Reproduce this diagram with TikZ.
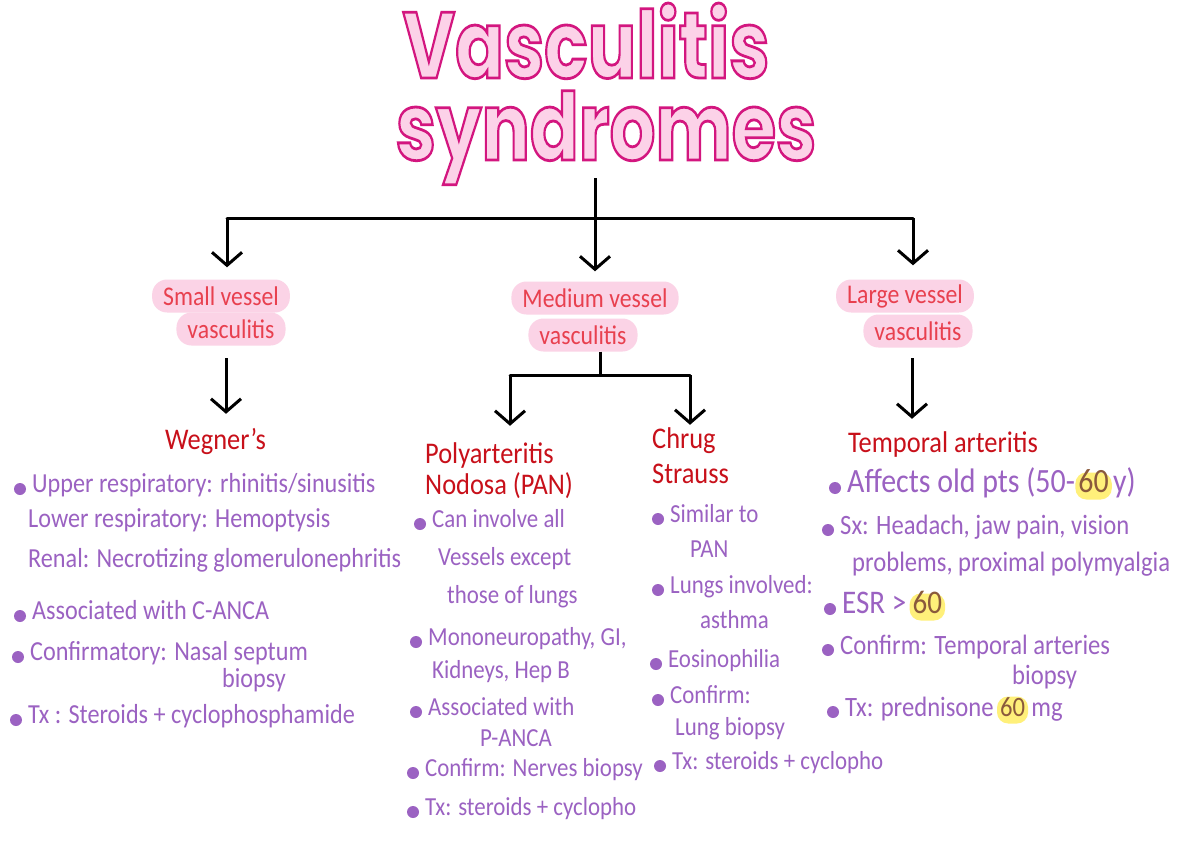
\documentclass[tikz,border=0pt]{standalone}
\usepackage{fontspec}
\usepackage{xcolor}
\usepackage{tikz}
\usetikzlibrary{arrows.meta}
\usetikzlibrary{positioning}

\setmainfont{Carlito}[FakeStretch=0.88]
\newfontfamily\titlefont{Poppins}[FakeBold=3]

\definecolor{pillpink}{HTML}{FBD3E6}
\definecolor{pillred}{HTML}{E8404F}
\definecolor{headred}{HTML}{C8101A}
\definecolor{lilac}{HTML}{9B62C2}
\definecolor{titlepink}{HTML}{FCD2E8}
\definecolor{titleedge}{HTML}{D3167F}
\definecolor{hlyellow}{HTML}{FFF07A}
\definecolor{hltext}{HTML}{8A5A3C}

% pink letters with a magenta rim: fill and stroke set apart
\newcommand{\bubble}[1]{{\color{titlepink}\special{pdf:literal direct 0.827 0.086 0.498 RG}#1}}

\tikzset{
  ttl/.style={anchor=base, inner sep=0pt, font=\titlefont\bfseries\fontsize{72}{72}\selectfont},
  pill/.style={fill=pillpink, text=pillred, rounded corners=15pt, inner xsep=11pt,
    minimum height=33pt, font=\fontsize{27}{27}\selectfont},
  head/.style={text=headred, anchor=west, inner sep=0pt, text height=19pt, text depth=5pt,
    font=\fontsize{30}{30}\selectfont},
  txt/.style={text=lilac, anchor=west, inner sep=0pt, text height=16pt, text depth=5pt,
    font=\fontsize{26}{26}\selectfont},
  wtxt/.style={txt, font=\fontsize{27.5}{27.5}\selectfont},
  big/.style={txt, font=\fontsize{28}{28}\selectfont, text height=18pt},
  hl/.style={big, fill=hlyellow, text=hltext, rounded corners=11pt, inner xsep=3pt, inner ysep=2pt},
  arr/.style={line width=3pt, -{Straight Barb[length=13pt,width=30pt,line width=3pt]}},
  dot/.style={fill=lilac}
}

\begin{document}
\begin{tikzpicture}[x=1pt,y=-1pt]
            \useasboundingbox (0,0) rectangle (1200,843);
            \fill[white] (0,0) rectangle (1200,843);
            %title
            \node[ttl] (ttla) at (586,78) {\scalebox{1}[1.3]{\bubble{Vasculitis}}};
            \node[ttl] (ttlb) at (606,160) {\scalebox{1}[1.3]{\bubble{syndromes}}};
            %
            %categories
            \node[pill] (smalla) at (221,296) {Small vessel};
            \node[pill] (smallb) at (231,329) {vasculitis};
            \node[pill] (meda) at (595,298) {Medium vessel};
            \node[pill] (medb) at (583,335) {vasculitis};
            \node[pill] (larga) at (905,296) {Large vessel};
            \node[pill] (largb) at (918,331) {vasculitis};
            %
            %branches
            \coordinate (top) at (595,178);
            \coordinate (split) at (595,218);
            \coordinate (splitl) at (227,218);
            \coordinate (splitr) at (913,218);
            \draw[line width=3pt] (top) -- (split);
            \draw[line width=3pt, line cap=round] (splitl) -- (splitr);
            \draw[arr, shorten >=12pt] (splitl) -- (splitl |- smalla.north);
            \draw[arr, shorten >=10pt] (split) -- (split |- meda.north);
            \draw[arr, shorten >=14pt] (splitr) -- (splitr |- larga.north);
            %
            %headers
            \node[head] (weg) at (165,442) {Wegner's};
            \node[head] (pana) at (425,456) {Polyarteritis};
            \node[head] (panb) at (425,487) {Nodosa (PAN)};
            \node[head] (chra) at (652,441) {Chrug};
            \node[head] (chrb) at (652,476) {Strauss};
            \node[head] (temp) at (848,445) {Temporal arteritis};
            %
            \coordinate (medj) at (600,375);
            \coordinate (medl) at (510,375);
            \coordinate (medr) at (690,375);
            \draw[arr, shorten <=6pt, shorten >=16pt] (226,352) coordinate (sml) -- (sml |- weg.north);
            \draw[line width=3pt] (medb.south -| medj) -- (medj);
            \draw[line width=3pt, line cap=round] (medl) -- (medr);
            \draw[arr, shorten >=18pt] (medl) -- (medl |- pana.north);
            \draw[arr, shorten >=4pt] (medr) -- (medr |- chra.north);
            \draw[arr, shorten <=8pt, shorten >=14pt] (912,350) coordinate (lrg) -- (lrg |- temp.north);
            %
            %Wegner
            \node[wtxt] (wa) at (32,487) {Upper respiratory: rhinitis/sinusitis};
            \node[wtxt] (wb) at (28,522) {Lower respiratory: Hemoptysis};
            \node[wtxt] (wc) at (28,562) {Renal: Necrotizing glomerulonephritis};
            \node[wtxt] (wd) at (32,614) {Associated with C-ANCA};
            \node[wtxt] (we) at (30,655) {Confirmatory: Nasal septum};
            \node[wtxt] (wf) at (222,682) {biopsy};
            \node[wtxt] (wg) at (28,718) {Tx : Steroids + cyclophosphamide};
            %PAN
            \node[txt] (pa) at (432,522) {Can involve all};
            \node[txt] (pb) at (438,560) {Vessels except};
            \node[txt] (pc) at (447,598) {those of lungs};
            \node[txt] (pd) at (428,640) {Mononeuropathy, GI,};
            \node[txt] (pe) at (432,673) {Kidneys, Hep B};
            \node[txt] (pf) at (428,710) {Associated with};
            \node[txt] (pg) at (480,741) {P-ANCA};
            \node[txt] (ph) at (425,771) {Confirm: Nerves biopsy};
            \node[txt] (pi) at (425,810) {Tx: steroids + cyclopho};
            %Chrug Strauss
            \node[txt] (ca) at (670,517) {Similar to};
            \node[txt] (cb) at (690,552) {PAN};
            \node[txt] (cc) at (670,588) {Lungs involved:};
            \node[txt] (cd) at (700,623) {asthma};
            \node[txt] (ce) at (668,662) {Eosinophilia};
            \node[txt] (cf) at (670,698) {Confirm:};
            \node[txt] (cg) at (675,730) {Lung biopsy};
            \node[txt] (ch) at (672,764) {Tx: steroids + cyclopho};
            %Temporal
            \node[big, font=\fontsize{34}{34}\selectfont] (ta) at (847,486) {Affects old pts (50-};
            \node[hl, font=\fontsize{34}{34}\selectfont, right=0pt of ta] (tah) {60};
            \node[big, font=\fontsize{34}{34}\selectfont, right=1pt of tah] (tae) {y)};
            \node[big] (tb) at (840,528) {Sx: Headach, jaw pain, vision};
            \node[big] (tc) at (852,565) {problems, proximal polymyalgia};
            \node[big, font=\fontsize{33}{33}\selectfont] (td) at (842,607) {ESR >};
            \node[hl, font=\fontsize{33}{33}\selectfont, right=3pt of td] (tdh) {60};
            \node[big] (te) at (840,648) {Confirm: Temporal arteries};
            \node[big] (tf) at (1012,678) {biopsy};
            \node[big] (tg) at (845,710) {Tx: prednisone};
            \node[hl, right=3pt of tg] (tgh) {60};
            \node[big, right=3pt of tgh] (tge) {mg};
            %
            %bullets
            \foreach \n in {wa, wd, we, wg, pa, pd, pf, ph, pi, ca, cc, ce, cf, ch, ta, tb, td, te, tg} {
                \fill[dot] ([xshift=-12pt, yshift=-2pt]\n.west) circle (6pt);
            }
        \end{tikzpicture}
\end{document}
